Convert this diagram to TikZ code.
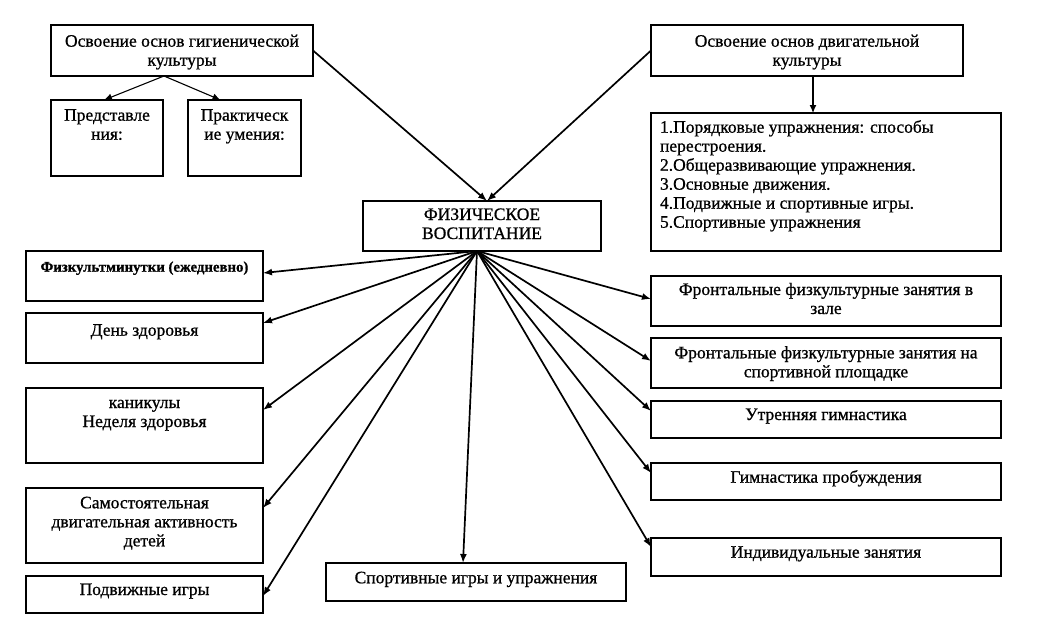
\documentclass[tikz,border=0pt]{standalone}
\usepackage{fontspec}
\setmainfont{Liberation Serif}[RawFeature={embolden=0.8}]
\usetikzlibrary{arrows.meta,calc}
\tikzset{
  box/.style={draw, line width=1.9pt, rectangle, inner sep=0pt, outer sep=0pt, align=center},
  conn/.style={line width=1.7pt, -{Latex[length=9pt,width=7pt]}},
  thin conn/.style={line width=1.1pt, -{Latex[length=8pt,width=7pt]}},
}
% \bx{name}{x1}{y1}{x2}{y2}{first baseline offset}{text}
\newcommand{\bx}[7]{%
  \pgfmathsetmacro{\bw}{#4-#2}\pgfmathsetmacro{\bh}{#5-#3}%
  \node[box, minimum width=\bw pt, minimum height=\bh pt] (#1) at ({(#2+#4)/2},{(#3+#5)/2})
    {\parbox[c][\bh pt][t]{\bw pt}{\centering\rule{0pt}{#6pt}#7}};}
\begin{document}
\begin{tikzpicture}[x=1pt,y=-1pt,font=\fontsize{17.5}{19}\selectfont]
\useasboundingbox[fill=white] (0,0) rectangle (1038,626);

\bx{gyg}{51}{25}{313}{76}{21.7}{Освоение основ гигиенической\\культуры}
\bx{pred}{51}{100}{163}{176}{20.7}{Представле\\ния:}
\bx{prak}{188}{100}{301}{176}{20.7}{Практическ\\ие умения:}
\bx{motor}{651}{25}{963}{76}{21.7}{Освоение основ двигательной\\культуры}
\node[box, minimum width=350pt, minimum height=138pt] (list) at (826,182)
  {\parbox[c][138pt][t]{332pt}{\raggedright\rule{0pt}{19.7pt}%
   1.Порядковые упражнения: способы\\перестроения.\\2.Общеразвивающие упражнения.\\3.Основные движения.\\4.Подвижные и спортивные игры.\\5.Спортивные упражнения}};
\bx{fiz}{363}{201}{601}{251}{19}{ФИЗИЧЕСКОЕ\\ВОСПИТАНИЕ}

\bx{fm}{26}{251}{263}{301}{20.7}{\fontsize{14.8}{19}\selectfont\bfseries Физкультминутки (ежедневно)}
\bx{dz}{26}{313}{263}{363}{22.7}{День здоровья}
\bx{kan}{26}{388}{263}{463}{20}{каникулы\\Неделя здоровья}
\bx{sam}{26}{488}{263}{563}{20.3}{Самостоятельная\\двигательная активность\\детей}
\bx{pi}{26}{576}{263}{613}{19}{Подвижные игры}
\bx{sport}{326}{563}{626}{601}{20.3}{Спортивные игры и упражнения}

\bx{fz}{651}{276}{1001}{326}{19}{Фронтальные физкультурные занятия в\\зале}
\bx{fp}{651}{338}{1001}{388}{20.3}{Фронтальные физкультурные занятия на\\спортивной площадке}
\bx{ug}{651}{401}{1001}{438}{19}{Утренняя гимнастика}
\bx{gp}{651}{463}{1001}{500}{19.7}{Гимнастика пробуждения}
\bx{ind}{651}{538}{1001}{576}{19.7}{Индивидуальные занятия}

\coordinate (hub) at ($(fiz.south)+(-5,0)$);
\coordinate (fizin) at ($(fiz.north)+(5,0)$);

\draw[thin conn] ($(gyg.south)+(-18,0)$) -- ($(pred.north)+(-3,0)$);
\draw[thin conn] ($(gyg.south)+(-18,0)$) -- ($(prak.north)+(-24,0)$);
\draw[conn] (gyg.east) -- (fizin);
\draw[conn] (motor.west) -- (fizin);
\draw[thin conn] ($(motor.south)+(6,0)$) -- ($(list.north)+(-13,0)$);

\draw[conn] (hub) -- ($(fm.north east)+(0,22)$);
\draw[conn] (hub) -- ($(dz.north east)+(0,10)$);
\draw[conn] (hub) -- ($(kan.north east)+(0,22)$);
\draw[conn] (hub) -- ($(sam.north east)+(0,20)$);
\draw[conn] (hub) -- ($(pi.north east)+(0,20)$);
\draw[conn] (hub) -- ($(sport.north)+(-13,0)$);
\draw[conn] (hub) -- ($(fz.north west)+(0,23)$);
\draw[conn] (hub) -- ($(fp.north west)+(0,23)$);
\draw[conn] (hub) -- ($(ug.north west)+(0,10)$);
\draw[conn] (hub) -- ($(gp.north west)+(0,10)$);
\draw[conn] (hub) -- ($(ind.north west)+(0,9)$);
\end{tikzpicture}
\end{document}
